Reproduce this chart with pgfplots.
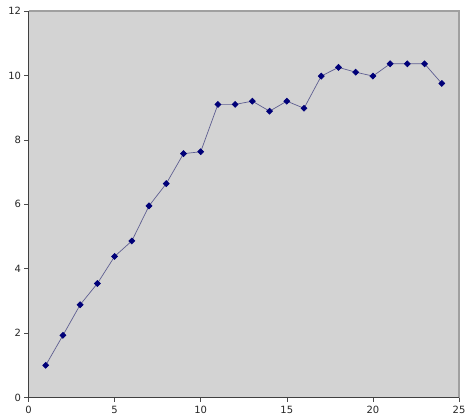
\documentclass[border=0pt]{standalone}
\usepackage{fontspec}
\setmainfont{DejaVu Sans}
\usepackage{pgfplots}
\pgfplotsset{compat=1.18}
\definecolor{plotbg}{RGB}{211,211,211}
\definecolor{frameg}{RGB}{160,160,160}
\definecolor{linec}{RGB}{95,95,145}
\definecolor{markc}{RGB}{0,0,120}
\begin{document}
\begin{tikzpicture}
  \begin{axis}[
      at={(0,0)}, anchor=origin,
      scale only axis,
      width=430.5bp, height=386.5bp,
      xmin=0, xmax=25, ymin=0, ymax=12,
      xtick={0,5,...,25}, ytick={0,2,...,12},
      axis background/.style={fill=plotbg},
      separate axis lines,
      x axis line style={draw=none},
      y axis line style={draw=none},
      tick align=outside,
      xtick pos=bottom, ytick pos=left,
      major tick length=4bp,
      tick style={black!70, line width=0.6pt},
      ticklabel style={font=\fontsize{10}{12}\selectfont, text=black!85},
      /pgf/number format/assume math mode=true,
      xticklabel style={yshift=-1bp},
      clip=false,
    ]
    % frame: gray top/right, dark left/bottom
    \draw[frameg, line width=1.2pt] (axis cs:0,12) -- (axis cs:25,12) -- (axis cs:25,0);
    \draw[black!75, line width=1.3pt] (axis cs:0,12) -- (axis cs:0,0) -- (axis cs:25,0);
    \addplot[color=linec, line width=0.7pt, mark=square*,
      mark size=2.1pt, mark options={fill=markc, draw=markc, rotate=45}] coordinates {
      (1,1.00) (2,1.93) (3,2.88) (4,3.54) (5,4.38) (6,4.86)
      (7,5.95) (8,6.64) (9,7.57) (10,7.63) (11,9.10) (12,9.10)
      (13,9.20) (14,8.89) (15,9.20) (16,8.98) (17,9.98) (18,10.25)
      (19,10.10) (20,9.98) (21,10.36) (22,10.36) (23,10.36) (24,9.75)
    };
  \end{axis}
  \pgfresetboundingbox
  \useasboundingbox (-28.5bp,-22.5bp) rectangle (445.5bp,397.5bp);
\end{tikzpicture}
\end{document}
